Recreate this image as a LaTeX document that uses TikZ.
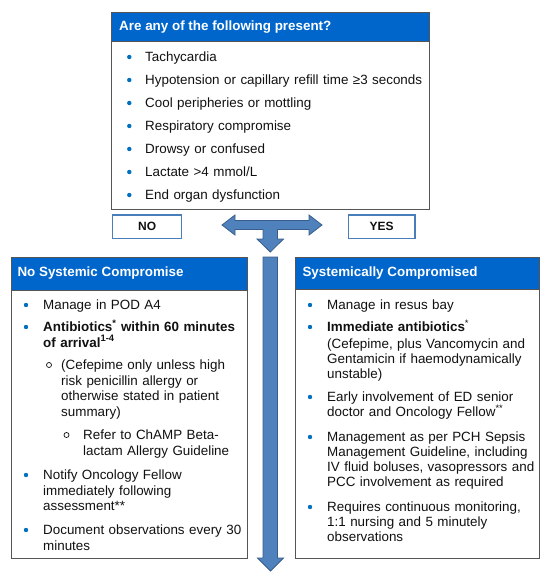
\documentclass[tikz,border=0pt]{standalone}
\usepackage{fontspec}
\setmainfont{Liberation Sans}
\definecolor{headblue}{HTML}{0066CC}
\definecolor{bulletblue}{HTML}{0070C0}
\definecolor{boxgray}{HTML}{555555}
\definecolor{arrowblue}{HTML}{4F81BD}
\definecolor{arrowedge}{HTML}{385D8A}
\definecolor{choiceblue}{HTML}{4A7EBB}
\definecolor{txt}{HTML}{111111}
\begin{document}
\begin{tikzpicture}[x=1pt,y=-1pt,
  box/.style={draw=boxgray, line width=0.9pt, fill=white, inner sep=0pt, outer sep=0pt, anchor=north west},
  head/.style={draw=boxgray, line width=0.9pt, fill=headblue, inner sep=0pt, outer sep=0pt, anchor=north west},
  headtext/.style={anchor=base west, inner sep=0pt, text=white, font=\fontsize{13.4}{15}\selectfont\bfseries},
  item/.style={anchor=base west, inner sep=0pt, align=left, text width=300pt, text=txt},
  itema/.style={item, font=\fontsize{13.4}{15.5}\selectfont},
  itemb/.style={item, font=\fontsize{13.4}{15}\selectfont},
  dot/.style={circle, fill=bulletblue, inner sep=0pt, minimum size=4.4pt},
  odot/.style={circle, draw=txt, line width=0.7pt, inner sep=0pt, minimum size=5pt},
  choice/.style={draw=choiceblue, line width=1.4pt, fill=white, inner sep=0pt, outer sep=0pt, anchor=north west, text=txt, font=\fontsize{12}{14}\selectfont\bfseries},
  blockarrow/.style={fill=arrowblue, draw=arrowedge, line width=0.8pt, line join=miter}]
\useasboundingbox (0,0) rectangle (550,580);

% top question box
\node[box, minimum width=318pt, minimum height=197.5pt] (topbox) at (111.5,12) {};
\node[head, minimum width=318pt, minimum height=29pt] (tophead) at (111.5,12) {};
\node[headtext] (toptitle) at (119,30.7) {Are any of the following present?};
\foreach \t [count=\i from 0] in {Tachycardia, Hypotension or capillary refill time ≥3 seconds, Cool peripheries or mottling, Respiratory compromise, Drowsy or confused, Lactate >4 mmol/L, End organ dysfunction}{
  \node[dot] (tb\i) at (129.3,57+23*\i) {};
  \node[itema] (t\i) at (145,61.5+23*\i) {\t};
}

% NO / YES
\node[choice, minimum width=69pt, minimum height=23.3pt] (no) at (112.7,215) {NO};
\node[choice, minimum width=66.7pt, minimum height=23.3pt] (yes) at (348.3,215) {YES};

% T block arrow
\draw[blockarrow] (222,225) -- (235,215) -- (235,220.5) -- (309,220.5) -- (309,215) -- (322,225)
  -- (309,235) -- (309,229.5) -- (277.5,229.5) -- (277.5,239) -- (283.5,239) -- (270.3,252)
  -- (257,239) -- (263,239) -- (263,229.5) -- (235,229.5) -- (235,235) -- cycle;

% down block arrow
\draw[blockarrow] (263,257) -- (277.5,257) -- (277.5,558) -- (283.5,558) -- (270.5,571)
  -- (257.5,558) -- (263,558) -- cycle;

% left box
\node[box, minimum width=236.5pt, minimum height=301pt] (leftbox) at (11,257) {};
\node[head, minimum width=236.5pt, minimum height=33pt] (lefthead) at (11,257) {};
\node[headtext] (lefttitle) at (17.3,276) {No Systemic Compromise};
\node[dot] (lb1) at (26,305) {};
\node[itema] (l1) at (43,309.5) {Manage in POD A4};
\node[dot] (lb2) at (26,327) {};
\node[itema, font=\fontsize{13.4}{15.5}\selectfont\bfseries] (l2) at (43,331.5) {Antibiotics\textsuperscript{*} within 60 minutes\\of arrival\textsuperscript{1-4}};
\node[odot] (lb3) at (49,365) {};
\node[itema] (l3) at (61,369.5) {(Cefepime only unless high\\risk penicillin allergy or\\otherwise stated in patient\\summary)};
\node[odot] (lb4) at (66.5,435) {};
\node[itema] (l4) at (83,439.5) {Refer to ChAMP Beta-\\lactam Allergy Guideline};
\node[dot] (lb5) at (26,475) {};
\node[itema] (l5) at (43,479.5) {Notify Oncology Fellow\\immediately following\\assessment**};
\node[dot] (lb6) at (26,530) {};
\node[itema] (l6) at (43,534.5) {Document observations every 30\\minutes};

% right box
\node[box, minimum width=244.5pt, minimum height=301pt] (rightbox) at (295,257) {};
\node[head, minimum width=244.5pt, minimum height=32.5pt] (righthead) at (295,257) {};
\node[headtext] (righttitle) at (302.3,276.5) {Systemically Compromised};
\node[dot] (rb1) at (310,305) {};
\node[itemb] (r1) at (327,309.5) {Manage in resus bay};
\node[dot] (rb2) at (310,327) {};
\node[itemb] (r2) at (327,331.5) {\textbf{Immediate antibiotics}\textsuperscript{*}\\[1.5pt](Cefepime, plus Vancomycin and\\Gentamicin if haemodynamically\\unstable)};
\node[dot] (rb3) at (310,397) {};
\node[itemb] (r3) at (327,401.5) {Early involvement of ED senior\\doctor and Oncology Fellow\textsuperscript{**}};
\node[dot] (rb4) at (310,437) {};
\node[itemb] (r4) at (327,441) {Management as per PCH Sepsis\\Management Guideline, including\\IV fluid boluses, vasopressors and\\PCC involvement as required};
\node[dot] (rb5) at (310,507) {};
\node[itemb] (r5) at (327,511) {Requires continuous monitoring,\\1:1 nursing and 5 minutely\\observations};
\end{tikzpicture}
\end{document}
